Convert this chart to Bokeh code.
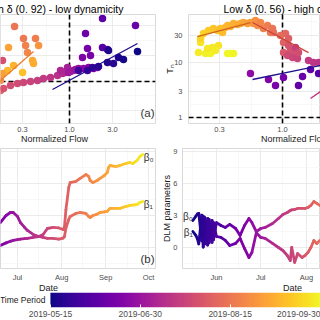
import numpy as np
import pandas as pd
from bokeh.plotting import figure
from bokeh.layouts import row, column
from bokeh.models import (ColumnDataSource, LinearColorMapper, FixedTicker, Span, Label, Grid, Title,
                          Range1d, DatetimeTickFormatter, CustomJSTickFormatter)
from bokeh.palettes import Plasma256
from bokeh.transform import transform
from bokeh.core.properties import value
from bokeh.embed import file_html
from bokeh.resources import INLINE

FONT = "Liberation Sans"

# ---- sampling period used for the colour scale ----
PERIOD = ["2019-05-15", "2019-10-01"]
CBAR_TICKS = ["2019-05-15", "2019-06-30", "2019-08-15", "2019-09-30"]

# ---- site with high delta (0.92): normalized flow vs Tn ----
A_FLOW = [0.245, 0.308, 0.419, 0.325, 0.341, 0.453, 0.21, 0.388, 0.398, 0.239, 0.205, 0.301, 0.18, 0.171,
          0.18, 0.171, 0.185, 0.221, 0.264, 0.308, 0.369, 0.441, 0.514, 0.615, 0.736, 0.836, 0.903,
          0.794, 0.95, 1.026, 1.107, 0.975, 1.166,
          1.259, 1.432, 1.626, 1.848, 2.047, 2.326, 5.41, 1.506, 1.585, 1.394, 1.711, 2.326, 2.642,
          1.259, 1.585, 1.801, 2.1, 2.642, 2.712, 3.08, 3.5, 3.98, 5.70]
A_TN = [9.8, 5.96, 5.96, 4.45, 3.33, 4.45, 4.1, 2.39, 2.11, 1.94, 1.58, 1.45, 1.39, 1.04,
        2.39, 0.69, 0.75, 0.85, 0.92, 0.96, 1.0, 1.04, 1.13, 1.18, 1.28, 1.39, 1.45,
        1.58, 1.79, 1.51, 1.58, 1.45, 1.65,
        1.71, 1.71, 1.79, 1.71, 1.79, 13.6, 10.2, 7.3, 3.93, 2.71, 2.94, 4.1, 3.77,
        1.58, 1.58, 1.79, 1.86, 2.2, 3.62, 2.11, 2.71, 2.49, 3.47]
A_DATE = ["2019-08-14", "2019-08-16", "2019-08-18", "2019-08-20", "2019-08-22", "2019-08-28", "2019-09-02",
          "2019-09-04", "2019-09-06", "2019-09-08", "2019-09-10", "2019-09-12", "2019-09-01", "2019-08-25",
          "2019-07-28", "2019-08-05", "2019-07-30", "2019-07-27", "2019-07-26", "2019-07-24", "2019-07-22",
          "2019-07-20", "2019-07-18", "2019-07-16", "2019-07-14", "2019-07-12", "2019-07-10",
          "2019-07-08", "2019-07-05", "2019-07-03", "2019-07-01", "2019-07-02", "2019-06-29",
          "2019-06-27", "2019-06-24", "2019-06-22", "2019-06-20", "2019-06-18", "2019-06-08", "2019-06-12",
          "2019-06-14", "2019-06-16", "2019-06-19", "2019-06-17", "2019-06-05", "2019-06-03",
          "2019-05-28", "2019-05-26", "2019-05-24", "2019-05-22", "2019-05-20", "2019-05-18", "2019-05-21",
          "2019-05-19", "2019-05-17", "2019-05-16"]
A_FIT_LATE_FLOW = [0.13, 0.398]
A_FIT_LATE_TN = [0.705, 3.47]
A_FIT_EARLY_FLOW = [0.647, 5.70]
A_FIT_EARLY_TN = [0.718, 4.84]

# ---- site with low delta (0.56): normalized flow vs Tn ----
B_FLOW = [0.209, 0.201, 0.230, 0.253, 0.262, 0.294, 0.278, 0.239, 0.350, 0.370, 0.392,
          0.209, 0.221, 0.243, 0.267, 0.289, 0.306, 0.318, 0.336, 0.350, 0.370, 0.392, 0.423, 0.448, 0.474,
          0.513, 0.542,
          0.574, 0.597, 0.621, 0.657, 0.695, 0.751, 0.795, 0.826, 0.842, 0.962, 1.059, 1.019, 1.121,
          1.019, 1.165, 1.234, 1.100, 1.210, 1.331, 1.282, 1.121, 1.357, 1.643, 1.808, 1.990,
          0.542, 0.765, 0.875, 1.019, 1.466, 1.357, 1.707, 1.990]
B_TN = [22.5, 14.8, 14.2, 14.2, 18.2, 19.8, 16.1, 17.5, 14.2, 14.2, 14.2,
        26.5, 32.6, 36.9, 40.1, 36.9, 40.1, 34.0, 41.9, 45.5, 43.6, 49.4, 47.4, 49.4, 51.5, 49.4, 51.5,
        49.4, 56.0, 45.5, 51.5, 40.1, 45.5, 34.0, 40.1, 34.0, 30.0, 32.6, 22.5, 26.5,
        14.8, 16.1, 14.2, 13.1, 12.1, 11.6, 18.2, 19.8, 14.8, 10.6, 9.8, 9.8,
        6.2, 4.84, 3.77, 5.26, 5.5, 3.77, 7.3, 6.2]
B_DATE = ["2019-09-24", "2019-09-27", "2019-09-28", "2019-09-29", "2019-09-26", "2019-09-25", "2019-09-27",
          "2019-09-26", "2019-09-30", "2019-10-01", "2019-09-30",
          "2019-09-20", "2019-09-18", "2019-09-16", "2019-09-14", "2019-09-13", "2019-09-12", "2019-09-11",
          "2019-09-10", "2019-09-09", "2019-09-08", "2019-09-07", "2019-09-06", "2019-09-05", "2019-09-03",
          "2019-09-01", "2019-08-30",
          "2019-08-28", "2019-08-26", "2019-08-24", "2019-08-22", "2019-08-20", "2019-08-18", "2019-08-16",
          "2019-08-14", "2019-08-12", "2019-08-10", "2019-08-08", "2019-08-06", "2019-08-04",
          "2019-08-01", "2019-07-30", "2019-07-28", "2019-07-26", "2019-07-24", "2019-07-22", "2019-07-20",
          "2019-07-29", "2019-07-27", "2019-07-18", "2019-07-16", "2019-07-14",
          "2019-06-25", "2019-06-20", "2019-06-18", "2019-06-15", "2019-06-12", "2019-06-10", "2019-06-08",
          "2019-06-05"]
B_FIT_LATE_FLOW = [0.197, 0.542]
B_FIT_LATE_TN = [28.8, 51.5]
B_FIT_MID_FLOW = [0.564, 1.643]
B_FIT_MID_TN = [51.5, 14.8]
B_FIT_EARLY_FLOW = [0.564, 2.5]
B_FIT_EARLY_TN = [4.84, 9.4]
B_FIT_JULY_FLOW = [1.707, 2.5]
B_FIT_JULY_TN = [2.2, 3.93]

# ---- DLM parameters, high delta site ----
A_DLM_DATE = ["2019-06-19", "2019-06-23", "2019-06-26", "2019-06-28", "2019-07-01", "2019-07-03", "2019-07-06",
              "2019-07-08", "2019-07-12", "2019-07-16", "2019-07-19", "2019-07-22", "2019-07-26", "2019-07-30",
              "2019-08-02", "2019-08-03", "2019-08-04", "2019-08-06", "2019-08-07", "2019-08-11", "2019-08-14",
              "2019-08-18", "2019-08-20", "2019-08-21", "2019-08-23", "2019-08-26", "2019-08-28", "2019-08-31",
              "2019-09-02", "2019-09-03", "2019-09-04", "2019-09-08", "2019-09-11", "2019-09-15", "2019-09-18",
              "2019-09-20", "2019-09-23", "2019-09-25", "2019-09-27"]
A_BETA0 = [0.16, 0.4, 0.55, 0.63, 0.7, 0.75, 0.8, 0.82, 0.92, 1.0, 1.19, 1.75, 1.85, 1.8, 1.66, 1.9, 3.5, 5.6,
           6.06, 6.16, 6.44, 6.81, 6.63, 6.25, 6.06, 6.25, 6.44, 6.72, 7.0, 7.47, 7.66, 7.56, 7.66, 7.84, 7.94,
           7.84, 8.13, 8.5, 8.69]
A_BETA1 = [2.31, 2.97, 3.25, 3.25, 2.88, 2.31, 1.85, 1.57, 1.19, 1.0, 0.91, 0.82, 0.82, 0.75, 0.85, 1.0, 1.8, 2.6,
           2.88, 3.16, 3.25, 3.16, 2.88, 2.78, 2.97, 3.1, 3.25, 3.3, 3.35, 3.5, 3.63, 3.63, 3.63, 3.81, 3.91,
           3.95, 4.0, 4.19, 4.28]

# ---- DLM parameters, low delta site ----
B_DLM_DATE = ["2019-05-16", "2019-05-18", "2019-05-19", "2019-05-20", "2019-05-22", "2019-05-23", "2019-05-24",
              "2019-05-26", "2019-05-27", "2019-05-29", "2019-05-30",
              "2019-06-01", "2019-06-04", "2019-06-07", "2019-06-10", "2019-06-14", "2019-06-17", "2019-06-20",
              "2019-06-23", "2019-06-25", "2019-06-28",
              "2019-07-01", "2019-07-04", "2019-07-09", "2019-07-13", "2019-07-16", "2019-07-19", "2019-07-21",
              "2019-07-22", "2019-07-24", "2019-07-26", "2019-07-29", "2019-07-31",
              "2019-08-02", "2019-08-04", "2019-08-06", "2019-08-08", "2019-08-10"]
B_BETA0 = [2.5, 2.9, 3.1, 3.16, 0.6, 2.9, 0.3, 2.7, 0.4, 2.5, 0.7,
           2.3, 2.03, 1.85, 2.13, 1.75, 1.1, 2.03, 2.69, 2.31, 1.45,
           1.75, 1.85, 2.22, 2.69, 3.06, 3.25, 3.44, 3.5, 3.53, 3.63, 3.63, 3.63,
           3.72, 3.91, 4.28, 4.1, 3.91]
B_BETA1 = [1.47, 1.1, 0.8, 0.3, 3.0, 0.0, 2.8, 0.2, 2.6, 0.45, 2.3,
           1.0, 0.91, 0.63, 0.16, 0.35, 0.82, -0.12, -0.97, -0.5, 1.35,
           0.91, 0.82, 0.35, -0.03, -0.31, -0.78, -1.25, -0.03, -1.43, -0.59, -0.97, -0.78,
           -0.5, -0.03, 0.63, 0.35, 0.63]


def ms(dates):
    """Datetime strings -> epoch milliseconds (floats)."""
    idx = pd.to_datetime(list(dates), format="ISO8601")
    return idx.values.astype("datetime64[ms]").astype("int64").astype(float)


P_LO, P_HI = ms(PERIOD)
cmap = LinearColorMapper(palette=Plasma256, low=P_LO, high=P_HI)

GRID_MAJOR = "#e6e6e6"
GRID_MINOR = "#f3f3f3"


def base(width, height, **kw):
    p = figure(width=width, height=height, output_backend="svg", toolbar_location=None, **kw)
    p.grid.visible = False
    p.outline_line_color = "#d9d9d9"
    p.border_fill_color = "white"
    p.background_fill_color = "white"
    return p


def add_grid(p, dim, ticks, minor):
    p.add_layout(Grid(dimension=dim, ticker=FixedTicker(ticks=list(ticks), minor_ticks=list(minor)),
                      grid_line_color=GRID_MAJOR, grid_line_width=0.8,
                      minor_grid_line_color=GRID_MINOR, minor_grid_line_width=0.6))


def style_axis(ax, standoff=3):
    ax.axis_line_color = None
    ax.major_tick_line_color = None
    ax.minor_tick_line_color = None
    ax.major_tick_out = 0
    ax.major_tick_in = 0
    ax.minor_tick_out = 0
    ax.minor_tick_in = 0
    ax.major_label_text_font = FONT
    ax.major_label_text_font_size = "7.5px"
    ax.major_label_text_color = "#4d4d4d"
    ax.major_label_standoff = standoff


def side_title(p, text, place, size="9px", align="center", offset=0, standoff=0, color="#1a1a1a"):
    p.add_layout(Title(text=text, align=align, offset=offset, standoff=standoff, text_font=FONT,
                       text_font_size=size, text_font_style="normal", text_color=color), place)


def top_title(p, text, align, offset):
    # blank strip next to the frame, then the panel heading set a little higher
    p.add_layout(Title(text=" ", text_font_size="4.2px", standoff=0, text_alpha=0), "above")
    p.add_layout(Title(text=text, align=align, offset=offset, standoff=-4, vertical_align="top",
                       text_font=FONT, text_font_size="10.5px", text_font_style="normal",
                       text_color="black"), "above")


def ref_lines(p):
    for dim in ("width", "height"):
        p.add_layout(Span(location=1, dimension=dim, line_color="black", line_dash="5 3",
                          line_width=1.6, level="underlay"))


def gradient_path(p, dates, vals):
    t = ms(dates)
    v = np.asarray(vals, dtype=float)
    src = ColumnDataSource(dict(x0=t[:-1], x1=t[1:], y0=v[:-1], y1=v[1:], t=(t[:-1] + t[1:]) / 2))
    p.segment("x0", "y0", "x1", "y1", source=src, line_color=transform("t", cmap),
              line_width=2.8, line_cap="round")


def panel_tag(p, x, y, text):
    p.add_layout(Label(x=x, y=y, text=text, text_font=FONT, text_font_size="11.5px", text_color="#333333",
                       text_align="right", text_baseline="middle"))


LOG_FMT1 = CustomJSTickFormatter(code="return tick.toFixed(1)")

# ---------------- (a) flow vs Tn, high delta ----------------
fa = base(160, 148, x_axis_type="log", y_axis_type="log", y_axis_location=None,
          x_range=Range1d(0.171, 9.03), y_range=Range1d(0.175, 16.1),
          min_border_left=0, min_border_right=5, min_border_top=14, min_border_bottom=25)
add_grid(fa, 0, [0.1, 0.3, 1, 3], [0.173, 0.548, 1.73, 5.48])
add_grid(fa, 1, [0.3, 1, 3, 10], [0.173, 0.548, 1.73, 5.48])
ref_lines(fa)
fa.xaxis.ticker = FixedTicker(ticks=[0.3, 1, 3])
fa.xaxis.formatter = LOG_FMT1
style_axis(fa.xaxis[0])
fa.scatter("x", "y", source=ColumnDataSource(dict(x=A_FLOW, y=A_TN, t=ms(A_DATE))),
           size=7.5, fill_color=transform("t", cmap), line_color=None)
fa.line(A_FIT_LATE_FLOW, A_FIT_LATE_TN, line_color="#ec7a2c", line_width=1.3)
fa.line(A_FIT_EARLY_FLOW, A_FIT_EARLY_TN, line_color="#1d0c8b", line_width=1.3)
top_title(fa, "High \u03b4 (0. 92) - low dynamicity", "right", 32)
side_title(fa, "Normalized Flow", "below", align="left", offset=20.5, standoff=-6)
panel_tag(fa, 8.8, 0.276, "(a)")

# ---------------- flow vs Tn, low delta ----------------
fb = base(160, 148, x_axis_type="log", y_axis_type="log",
          x_range=Range1d(0.166, 2.066), y_range=Range1d(0.78, 71.8),
          min_border_left=28, min_border_right=0, min_border_top=14, min_border_bottom=25)
add_grid(fb, 0, [0.1, 0.3, 1, 3], [0.173, 0.548, 1.73])
add_grid(fb, 1, [1, 3, 10, 30], [1.73, 5.48, 17.3, 54.8])
ref_lines(fb)
fb.xaxis.ticker = FixedTicker(ticks=[0.3, 1, 3])
fb.xaxis.formatter = LOG_FMT1
fb.yaxis.ticker = FixedTicker(ticks=[1, 3, 10, 30])
fb.yaxis.formatter = CustomJSTickFormatter(code="return tick.toFixed(0)")
style_axis(fb.xaxis[0])
style_axis(fb.yaxis[0], standoff=6)
fb.scatter("x", "y", source=ColumnDataSource(dict(x=B_FLOW, y=B_TN, t=ms(B_DATE))),
           size=7.5, fill_color=transform("t", cmap), line_color=None)
fb.line(B_FIT_LATE_FLOW, B_FIT_LATE_TN, line_color="#d0641f", line_width=1.3)
fb.line(B_FIT_MID_FLOW, B_FIT_MID_TN, line_color="#c9443a", line_width=1.3)
fb.line(B_FIT_EARLY_FLOW, B_FIT_EARLY_TN, line_color="#20128f", line_width=1.3)
fb.line(B_FIT_JULY_FLOW, B_FIT_JULY_TN, line_color="#c1317e", line_width=1.3)
top_title(fb, "Low \u03b4 (0. 56) - high dynamicity", "left", 35)
side_title(fb, "Normalized Flow", "below", align="left", offset=72.5, standoff=-6)
side_title(fb, "T\u2099", "left", standoff=-7)

# ---------------- (b) DLM parameters, high delta ----------------
fc = base(160, 143, x_axis_type="datetime", y_axis_location=None,
          x_range=Range1d(*ms(["2019-06-19 01:30", "2019-10-05 22:00"])), y_range=Range1d(-2.0, 9.25),
          min_border_left=0, min_border_right=5, min_border_top=0, min_border_bottom=23)
MONTHS = ms(["2019-05-01", "2019-06-01", "2019-07-01", "2019-08-01", "2019-09-01", "2019-10-01"])
MID_MONTHS = ms(["2019-05-16", "2019-06-16", "2019-07-16", "2019-08-16", "2019-09-16"])
MON_FMT = DatetimeTickFormatter(days="%b", months="%b", years="%b")
add_grid(fc, 0, MONTHS, MID_MONTHS)
add_grid(fc, 1, [0, 3, 6, 9], [-1.5, 1.5, 4.5, 7.5])
fc.xaxis.ticker = FixedTicker(ticks=list(MONTHS))
fc.xaxis.formatter = MON_FMT
style_axis(fc.xaxis[0], standoff=4)
gradient_path(fc, A_DLM_DATE, A_BETA1)
gradient_path(fc, A_DLM_DATE, A_BETA0)
t_end = ms(A_DLM_DATE[-1:])[0]
fc.text(x=[t_end, t_end], y=[A_BETA0[-1], A_BETA1[-1]], text=["\u03b2\u2080", "\u03b2\u2081"],
        text_align="left", text_baseline="middle", x_offset=1, y_offset=3,
        text_font=value(FONT), text_font_size=value("10px"), text_color="#333333")
side_title(fc, "Date", "below", align="left", offset=38.5, standoff=-8)
panel_tag(fc, ms(["2019-10-05 05:00"])[0], -1.15, "(b)")

# ---------------- DLM parameters, low delta ----------------
fd = base(160, 143, x_axis_type="datetime",
          x_range=Range1d(*ms(["2019-05-08 23:00", "2019-08-10 12:00"])), y_range=Range1d(-2.0, 9.25),
          min_border_left=22, min_border_right=0, min_border_top=0, min_border_bottom=23)
add_grid(fd, 0, MONTHS, MID_MONTHS)
add_grid(fd, 1, [0, 3, 6, 9], [-1.5, 1.5, 4.5, 7.5])
fd.xaxis.ticker = FixedTicker(ticks=list(MONTHS))
fd.xaxis.formatter = MON_FMT
fd.yaxis.ticker = FixedTicker(ticks=[0, 3, 6, 9])
style_axis(fd.xaxis[0], standoff=4)
style_axis(fd.yaxis[0], standoff=5)
gradient_path(fd, B_DLM_DATE, B_BETA1)
gradient_path(fd, B_DLM_DATE, B_BETA0)
t_start = ms(B_DLM_DATE[:1])[0]
fd.text(x=[t_start], y=[B_BETA0[0]], text=["\u03b2\u2080"], text_align="right", text_baseline="middle",
        y_offset=-4, text_font=value(FONT), text_font_size=value("10px"), text_color="#333333")
fd.text(x=[t_start], y=[B_BETA1[0]], text=["\u03b2\u2081"], text_align="right", text_baseline="middle",
        y_offset=1, text_font=value(FONT), text_font_size=value("10px"), text_color="#333333")
side_title(fd, "Date", "below", align="left", offset=100.5, standoff=-8)
side_title(fd, "DLM parameters", "left", standoff=-3)

# ---------------- colour bar: time period ----------------
fcb = base(320, 29, x_axis_type="datetime", y_axis_location=None,
           x_range=Range1d(*ms(["2019-04-19 10:48", "2019-09-30 06:00"])), y_range=Range1d(0, 1),
           min_border_left=0, min_border_right=0, min_border_top=1, min_border_bottom=13)
fcb.outline_line_color = None
fcb.image(image=[np.linspace(P_LO, P_HI, 256).reshape(1, 256)], x=P_LO, y=0, dw=P_HI - P_LO, dh=1,
          color_mapper=cmap)
fcb.xaxis.ticker = FixedTicker(ticks=list(ms(CBAR_TICKS)))
fcb.xaxis.formatter = DatetimeTickFormatter(days="%Y-%m-%d", months="%Y-%m-%d", years="%Y-%m-%d")
style_axis(fcb.xaxis[0], standoff=3)
fcb.xaxis.major_label_text_font_size = "8.5px"
fcb.xaxis.major_tick_line_color = "white"
fcb.xaxis.major_tick_in = 3
fcb.add_layout(Label(x=ms(["2019-05-12 10:48"])[0], y=0.5, text="Time Period", text_font=FONT,
                     text_font_size="8.5px", text_color="#1a1a1a", text_align="right",
                     text_baseline="middle"))

layout = column(row(fa, fb, spacing=0), row(fc, fd, spacing=0), fcb, spacing=0)
open("out.html", "w").write(file_html(layout, INLINE))
